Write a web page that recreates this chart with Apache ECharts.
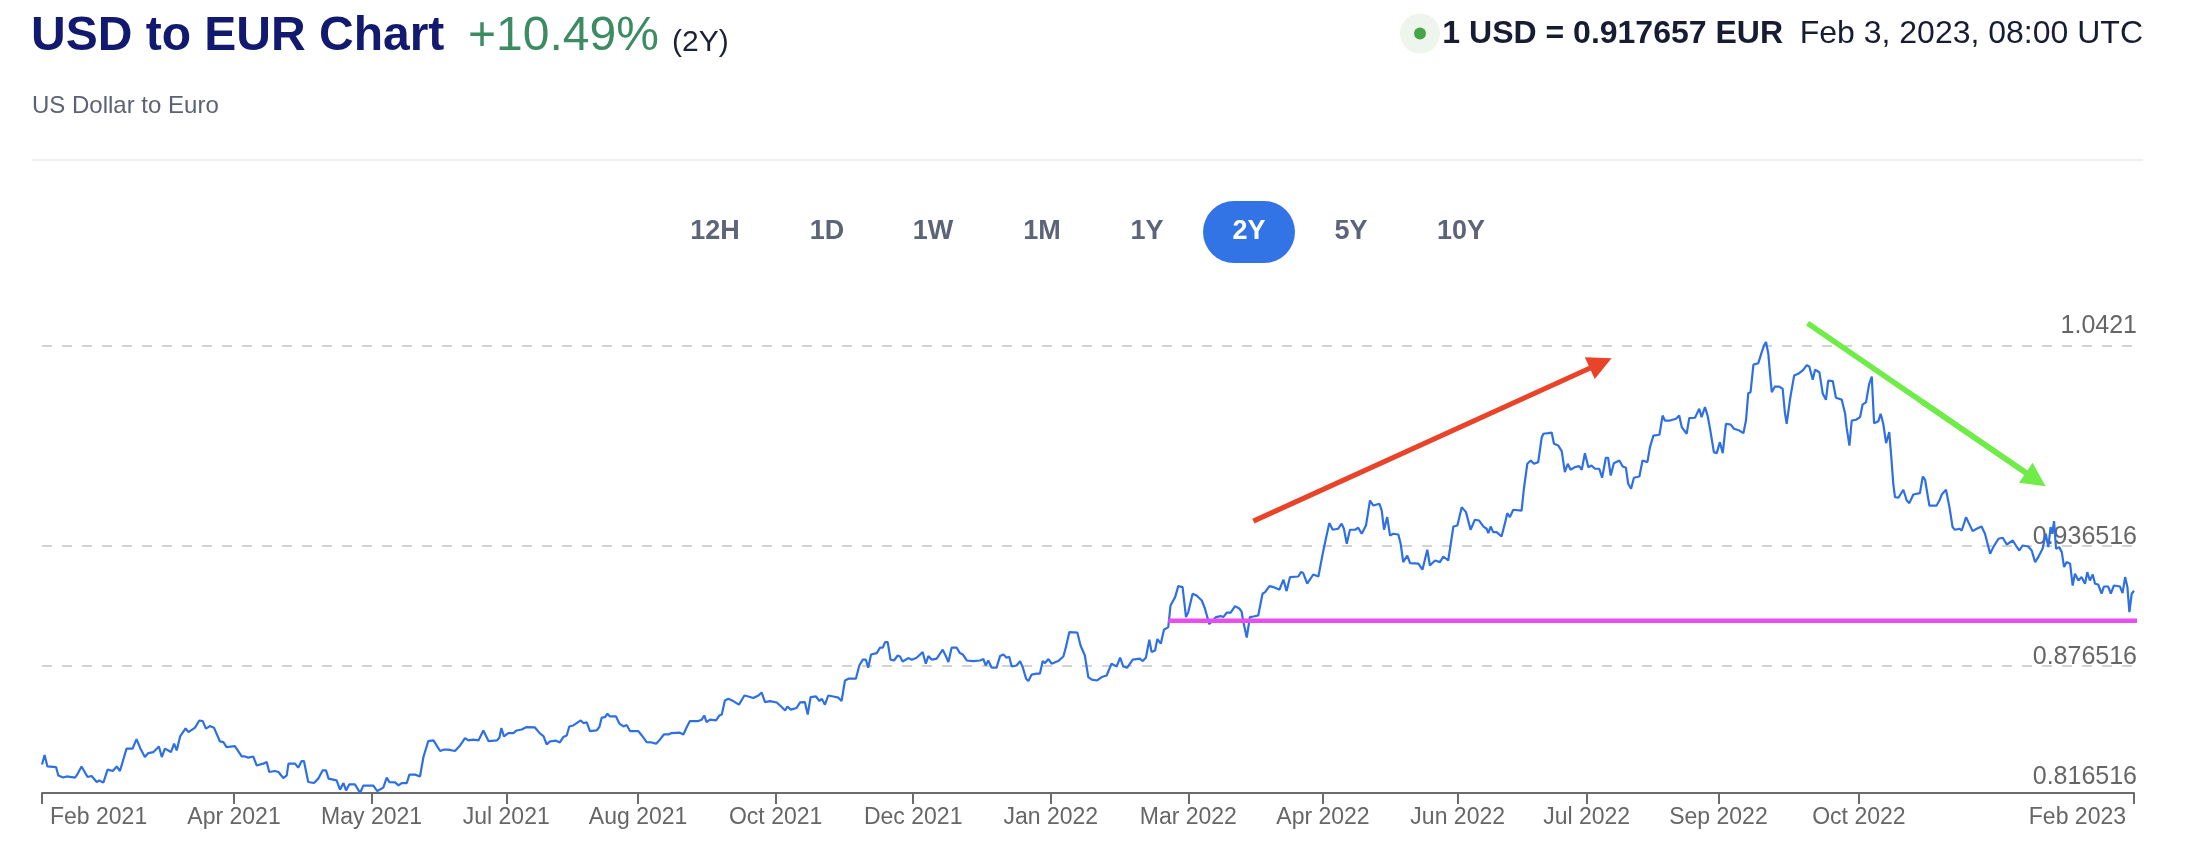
<!DOCTYPE html>
<html>
<head>
<meta charset="utf-8">
<script src="https://cdn.jsdelivr.net/npm/echarts@6.0.0/dist/echarts.min.js"></script>
<style>
  html, body { margin: 0; padding: 0; background: #ffffff; }
  #chart { width: 2187px; height: 863px; }
</style>
</head>
<body>
<div id="chart"></div>
<script>
// ---------------- DATA ----------------
const startDate = '2021-02-03T08:00:00Z';
const endDate = '2023-02-03T08:00:00Z';

// days after startDate, and the USD->EUR rate
const dayOffsets = [
0,0.9,1.9,4.9,5.7,7.4,8.6,11.5,12.1,13.8,15.9,17.3,19.1,20.0,21.4,22.9,24.7,26.1,27.2,29.5,
31.6,33.0,34.2,35.9,37.1,38.9,40.8,41.8,42.9,45.0,46.1,47.0,48.2,50.1,51.1,53.4,54.9,56.1,57.2,58.6,
60.0,62.1,63.3,64.4,67.3,69.7,70.8,72.0,73.7,74.9,77.2,78.4,79.3,81.3,82.5,84.2,85.4,86.0,88.3,89.4,
90.6,91.4,92.9,94.9,96.4,97.9,99.1,100.0,102.8,104.0,105.2,106.1,107.2,109.2,111.0,112.1,115.6,117.0,119.1,120.3,
121.2,123.2,124.4,125.5,127.3,128.2,130.2,131.9,133.1,134.8,136.6,137.7,138.9,140.1,141.8,144.1,145.9,147.6,148.8,150.5,
152.3,154.0,155.8,158.7,159.6,160.3,161.2,162.7,164.5,165.6,167.4,169.1,172.0,173.8,175.0,176.1,177.3,179.4,180.7,181.9,
183.1,184.0,185.4,188.0,188.9,190.1,191.2,193.5,194.5,195.3,196.5,197.3,198.2,200.3,201.5,202.9,204.0,205.2,208.1,209.3,
211.0,212.7,214.3,215.6,217.0,218.6,219.7,222.6,223.8,225.0,226.1,229.0,230.2,231.1,231.9,233.1,235.2,236.4,237.2,238.3,
239.5,241.2,243.2,245.1,246.5,248.2,250.0,251.1,252.3,254.0,256.4,258.1,259.3,260.1,261.3,263.3,264.5,266.2,267.2,268.2,
270.1,271.3,272.1,273.2,274.4,276.1,277.9,279.0,280.2,281.4,284.0,285.2,286.4,287.5,288.3,289.3,291.3,292.4,293.4,294.2,
295.1,296.1,297.3,298.6,299.4,300.3,302.3,303.5,305.2,307.3,308.4,309.3,310.5,312.2,314.3,315.3,316.3,317.4,319.2,320.3,
321.3,322.7,325.0,327.3,328.5,329.3,330.2,331.4,333.1,334.3,335.5,336.6,337.5,338.4,340.1,341.3,342.2,343.4,344.2,345.3,
347.1,348.2,349.2,350.0,351.2,352.3,354.6,356.4,357.3,358.5,361.3,362.4,363.9,365.1,366.3,368.2,369.8,371.5,373.2,375.0,
376.2,377.3,378.7,380.6,383.1,384.1,385.2,386.4,387.2,388.4,389.2,390.4,391.5,393.0,393.8,395.4,396.5,398.0,399.2,400.0,
401.5,402.9,404.7,405.8,407.3,408.7,409.7,411.3,412.2,413.4,414.8,416.3,417.8,418.6,419.2,420.4,421.5,422.7,424.4,425.9,
426.8,428.3,429.7,431.8,433.2,434.3,435.5,438.4,439.3,440.1,441.5,443.6,445.4,446.9,448.0,449.2,450.4,452.3,453.5,454.3,
455.3,456.4,458.2,459.3,460.5,462.0,463.4,464.6,466.7,467.5,468.3,469.4,470.4,471.5,473.3,474.1,475.0,476.4,477.4,480.3,
481.7,483.4,484.3,486.1,487.8,489.0,490.7,492.5,493.9,495.4,496.9,498.5,500.0,501.5,503.0,504.1,504.7,505.5,506.4,507.6,
509.3,510.5,511.3,512.2,513.4,516.3,517.1,518.3,519.5,520.6,522.1,523.3,523.9,525.6,526.8,527.6,529.1,530.3,531.4,532.4,
533.4,534.9,536.4,537.3,538.4,539.6,540.7,541.9,543.4,544.4,545.7,546.5,547.4,548.5,550.4,551.6,552.7,553.5,554.5,555.5,
557.4,558.5,560.2,561.1,562.3,564.4,565.5,566.3,568.1,570.2,571.3,572.2,573.9,574.8,576.8,578.3,579.1,580.3,581.2,582.0,
583.4,584.4,585.5,586.5,587.6,589.3,590.4,592.3,593.7,594.6,595.4,596.2,597.2,598.9,600.1,600.9,601.6,602.4,603.0,603.6,
604.7,606.2,607.4,608.2,608.8,610.0,611.4,613.2,614.6,615.8,616.7,617.9,618.7,620.2,621.4,622.5,623.3,624.9,626.0,628.0,
629.2,629.7,630.7,631.5,633.0,634.4,635.3,636.5,637.6,638.5,639.3,640.8,641.6,642.5,643.5,644.6,645.4,646.0,646.6,647.8,
649.5,650.7,651.6,653.0,655.3,656.3,657.1,657.9,658.6,661.1,662.1,662.9,664.4,665.6,666.7,667.5,669.1,669.9,671.4,672.2,
673.7,675.1,676.8,678.0,679.8,680.9,682.7,684.2,685.6,687.7,688.8,690.0,691.1,693.1,694.3,695.5,696.6,698.1,699.2,700.1,
700.9,701.5,702.1,702.8,703.9,704.8,705.6,706.5,707.7,708.6,709.4,710.6,711.7,712.9,713.7,714.6,715.6,716.4,717.5,718.7,
719.5,721.0,721.9,723.0,725.1,726.0,726.9,727.7,728.4,729.2,730.0
];
const rates = [
0.8308,0.8355,0.8298,0.8295,0.8253,0.8243,0.8248,0.8242,0.8253,0.8298,0.8245,0.8250,0.8220,0.8228,0.8217,0.8282,0.8275,0.8298,0.8275,0.8387,
0.8387,0.8435,0.8392,0.8345,0.8365,0.8370,0.8398,0.8345,0.8387,0.8370,0.8412,0.8378,0.8448,0.8488,0.8470,0.8492,0.8528,0.8525,0.8487,0.8500,
0.8492,0.8423,0.8420,0.8395,0.8400,0.8348,0.8348,0.8342,0.8348,0.8303,0.8312,0.8320,0.8270,0.8275,0.8270,0.8240,0.8253,0.8312,0.8312,0.8292,
0.8325,0.8325,0.8220,0.8215,0.8237,0.8278,0.8278,0.8237,0.8228,0.8182,0.8215,0.8178,0.8208,0.8208,0.8165,0.8202,0.8202,0.8175,0.8192,0.8242,
0.8220,0.8218,0.8203,0.8215,0.8215,0.8257,0.8257,0.8248,0.8345,0.8425,0.8428,0.8403,0.8375,0.8382,0.8382,0.8375,0.8403,0.8440,0.8428,0.8432,
0.8428,0.8478,0.8425,0.8428,0.8442,0.8490,0.8448,0.8465,0.8465,0.8478,0.8483,0.8495,0.8493,0.8462,0.8450,0.8408,0.8423,0.8427,0.8418,0.8445,
0.8453,0.8498,0.8503,0.8528,0.8515,0.8518,0.8475,0.8478,0.8495,0.8542,0.8545,0.8562,0.8548,0.8548,0.8512,0.8498,0.8505,0.8475,0.8475,0.8453,
0.8420,0.8418,0.8412,0.8432,0.8458,0.8458,0.8465,0.8467,0.8458,0.8495,0.8525,0.8525,0.8532,0.8553,0.8520,0.8532,0.8528,0.8553,0.8558,0.8628,
0.8637,0.8625,0.8607,0.8653,0.8648,0.8640,0.8653,0.8668,0.8620,0.8625,0.8618,0.8595,0.8578,0.8598,0.8582,0.8590,0.8618,0.8620,0.8558,0.8645,
0.8648,0.8625,0.8637,0.8607,0.8653,0.8648,0.8642,0.8625,0.8728,0.8737,0.8737,0.8803,0.8832,0.8832,0.8792,0.8858,0.8865,0.8892,0.8892,0.8920,
0.8920,0.8832,0.8828,0.8853,0.8848,0.8823,0.8840,0.8832,0.8842,0.8870,0.8812,0.8850,0.8832,0.8837,0.8882,0.8853,0.8820,0.8892,0.8892,0.8865,
0.8858,0.8828,0.8825,0.8828,0.8835,0.8803,0.8828,0.8792,0.8792,0.8850,0.8858,0.8842,0.8847,0.8798,0.8803,0.8825,0.8795,0.8737,0.8725,0.8757,
0.8762,0.8762,0.8825,0.8815,0.8835,0.8812,0.8825,0.8848,0.8895,0.8970,0.8967,0.8903,0.8853,0.8745,0.8732,0.8728,0.8745,0.8753,0.8812,0.8798,
0.8842,0.8798,0.8792,0.8832,0.8837,0.8825,0.8842,0.8932,0.8870,0.8878,0.8935,0.8912,0.8982,0.8995,0.9103,0.9145,0.9200,0.9195,0.9045,0.9070,
0.9162,0.9153,0.9128,0.9088,0.9010,0.9030,0.9045,0.9050,0.9045,0.9067,0.9067,0.9100,0.9088,0.9072,0.9022,0.8943,0.9045,0.9048,0.9053,0.9162,
0.9170,0.9200,0.9195,0.9182,0.9232,0.9175,0.9245,0.9248,0.9270,0.9265,0.9212,0.9258,0.9248,0.9362,0.9437,0.9515,0.9482,0.9487,0.9512,0.9487,
0.9412,0.9482,0.9482,0.9492,0.9462,0.9503,0.9628,0.9603,0.9612,0.9578,0.9482,0.9545,0.9453,0.9462,0.9458,0.9412,0.9320,0.9353,0.9315,0.9312,
0.9282,0.9382,0.9303,0.9328,0.9320,0.9348,0.9328,0.9498,0.9503,0.9595,0.9570,0.9482,0.9532,0.9528,0.9498,0.9487,0.9465,0.9498,0.9470,0.9470,
0.9448,0.9515,0.9565,0.9545,0.9582,0.9578,0.9687,0.9812,0.9828,0.9812,0.9820,0.9942,0.9962,0.9965,0.9968,0.9912,0.9903,0.9875,0.9770,0.9812,
0.9782,0.9795,0.9800,0.9782,0.9865,0.9795,0.9803,0.9787,0.9787,0.9742,0.9842,0.9842,0.9753,0.9815,0.9828,0.9798,0.9792,0.9712,0.9687,0.9742,
0.9748,0.9828,0.9820,0.9895,0.9953,0.9957,1.0053,1.0028,1.0028,1.0037,1.0053,0.9995,0.9962,1.0040,1.0042,1.0087,1.0045,1.0095,1.0053,0.9992,
0.9870,0.9865,0.9920,0.9865,1.0012,1.0008,0.9987,0.9978,0.9965,1.0028,1.0165,1.0170,1.0308,1.0315,1.0370,1.0403,1.0421,1.0362,1.0262,1.0170,
1.0198,1.0198,1.0187,1.0065,1.0012,1.0137,1.0253,1.0265,1.0282,1.0305,1.0298,1.0232,1.0282,1.0270,1.0162,1.0132,1.0228,1.0225,1.0142,1.0133,
1.0062,0.9995,0.9903,1.0028,1.0032,1.0045,1.0108,1.0120,1.0212,1.0248,1.0015,1.0025,1.0062,1.0012,0.9915,0.9970,0.9828,0.9712,0.9645,0.9642,
0.9682,0.9628,0.9615,0.9658,0.9665,0.9748,0.9732,0.9662,0.9603,0.9603,0.9628,0.9658,0.9682,0.9595,0.9495,0.9482,0.9487,0.9478,0.9545,0.9520,
0.9475,0.9487,0.9498,0.9462,0.9362,0.9395,0.9437,0.9442,0.9408,0.9428,0.9403,0.9378,0.9403,0.9398,0.9378,0.9320,0.9345,0.9387,0.9462,0.9395,
0.9495,0.9462,0.9525,0.9387,0.9395,0.9370,0.9295,0.9320,0.9312,0.9203,0.9262,0.9228,0.9245,0.9212,0.9270,0.9228,0.9258,0.9212,0.9208,0.9162,
0.9198,0.9198,0.9162,0.9203,0.9198,0.9165,0.9245,0.9195,0.9070,0.9162,0.917657
];

// x-axis tick dates and y-axis tick labels
const xTickDates = ['2021-02-03','2021-04-11','2021-05-29','2021-07-15','2021-08-30','2021-10-17','2021-12-04',
  '2022-01-21','2022-03-10','2022-04-26','2022-06-12','2022-07-27','2022-09-11','2022-10-30','2023-02-03'];
const monthNames = ['Jan','Feb','Mar','Apr','May','Jun','Jul','Aug','Sep','Oct','Nov','Dec'];
const yTickValues = [0.816516, 0.876516, 0.936516, 1.0421];
const yTickLabels = ['0.816516', '0.876516', '0.936516', '1.0421'];
const yMin = 0.816516, yMax = 1.0421;

// annotations: [dayOffset, rate]  (shaft start, arrow-head centre)
const upArrow = [[422.7, 0.9525], [543.9, 1.0315]];
const downArrow = [[616.1, 1.0515], [695.7, 0.9733]];
const downArrowHeadFrom = [655.9, 1.0124];
const supportLine = [[393.0, 0.9027], [735.2, 0.9027]];

// header texts
const titleText = 'USD to EUR Chart';
const changeText = '+10.49%';
const periodText = '(2Y)';
const subtitleText = 'US Dollar to Euro';
const rateText = '1 USD = 0.917657 EUR';
const timeText = 'Feb 3, 2023, 08:00 UTC';
const rangeLabels = ['12H', '1D', '1W', '1M', '1Y', '2Y', '5Y', '10Y'];
const activeRange = '2Y';

// ---------------- BUILD ----------------
const DAY = 86400000;
const t0 = Date.parse(startDate);
const t1 = Date.parse(endDate);
const toTime = d => t0 + d * DAY;
const seriesData = dayOffsets.map((d, i) => [toTime(d), rates[i]]);
const xTickTimes = xTickDates.map(s => Date.parse(s + 'T08:00:00Z'));
const toPt = p => [toTime(p[0]), p[1]];
const ac = p => ({ coord: toPt(p) });

const FONT = '"Liberation Sans", Arial, Helvetica, sans-serif';
const rangeCenters = [715, 827, 933, 1042, 1147, 1249, 1351, 1461];

const RED = '#e9442a', GREEN = '#6fec48', MAGENTA = '#ea4cf0';

const graphics = [
  { type: 'text', x: 31, y: 37, style: { text: titleText, font: 'bold 48px ' + FONT, fill: '#111a6e', align: 'left', verticalAlign: 'middle' } },
  { type: 'text', x: 468, y: 37, style: { text: changeText, font: '48px ' + FONT, fill: '#3d8b63', align: 'left', verticalAlign: 'middle' } },
  { type: 'text', x: 672, y: 43, style: { text: periodText, font: '30px ' + FONT, fill: '#1d2233', align: 'left', verticalAlign: 'middle' } },
  { type: 'text', x: 32, y: 106, style: { text: subtitleText, font: '24px ' + FONT, fill: '#5b6275', align: 'left', verticalAlign: 'middle' } },
  { type: 'line', shape: { x1: 32, y1: 160, x2: 2143, y2: 160 }, style: { stroke: '#eef0f4', lineWidth: 2 } },
  { type: 'circle', shape: { cx: 1420, cy: 33.5, r: 20 }, style: { fill: '#edf5ec' } },
  { type: 'circle', shape: { cx: 1420, cy: 33.5, r: 6 }, style: { fill: '#47a447' } },
  { type: 'text', x: 1783, y: 34, style: { text: rateText, font: 'bold 32px ' + FONT, fill: '#171c33', align: 'right', verticalAlign: 'middle' } },
  { type: 'text', x: 2143, y: 34, style: { text: timeText, font: '32px ' + FONT, fill: '#171c33', align: 'right', verticalAlign: 'middle' } }
];
rangeLabels.forEach((lab, i) => {
  const cx = rangeCenters[i];
  const active = lab === activeRange;
  if (active) {
    graphics.push({ type: 'rect', shape: { x: cx - 46, y: 201, width: 92, height: 62, r: 31 }, style: { fill: '#3273e6' } });
  }
  graphics.push({ type: 'text', x: cx, y: 232, style: { text: lab, font: 'bold 27px ' + FONT, fill: active ? '#ffffff' : '#5d6479', align: 'center', verticalAlign: 'middle' } });
});

const chart = echarts.init(document.getElementById('chart'), null, { renderer: 'canvas' });
chart.setOption({
  animation: false,
  backgroundColor: '#ffffff',
  textStyle: { fontFamily: FONT },
  tooltip: { show: false },
  graphic: graphics,
  grid: { left: 42, right: 53, top: 342, bottom: 70, containLabel: false },
  xAxis: {
    type: 'value',
    min: t0,
    max: t1,
    axisLine: { show: true, lineStyle: { color: '#6b6b6b', width: 2 } },
    axisTick: { show: true, length: 11, customValues: xTickTimes, lineStyle: { color: '#6b6b6b', width: 2 } },
    axisLabel: {
      customValues: xTickTimes,
      color: '#666666',
      fontSize: 23,
      fontFamily: FONT,
      margin: 13,
      padding: [0, 8, 0, 8],
      showMinLabel: true,
      showMaxLabel: true,
      alignMinLabel: 'left',
      alignMaxLabel: 'right',
      hideOverlap: false,
      formatter: function (v) {
        const d = new Date(v);
        return monthNames[d.getUTCMonth()] + ' ' + d.getUTCFullYear();
      }
    },
    splitLine: { show: false }
  },
  yAxis: {
    type: 'value',
    position: 'right',
    min: yMin,
    max: yMax,
    axisLine: { show: false },
    axisTick: { show: false },
    splitLine: { show: false },
    axisLabel: {
      inside: true,
      customValues: yTickValues,
      margin: -3,
      color: '#666666',
      fontSize: 25,
      fontFamily: FONT,
      verticalAlign: 'bottom',
      padding: [0, 0, 3, 0],
      showMinLabel: true,
      showMaxLabel: true,
      formatter: function (v) {
        let best = 0;
        yTickValues.forEach((tv, i) => { if (Math.abs(tv - v) < Math.abs(yTickValues[best] - v)) best = i; });
        return yTickLabels[best];
      }
    }
  },
  series: [
    {
      name: 'grid',
      type: 'line',
      data: [],
      z: 1,
      silent: true,
      markLine: {
        z: 1,
        silent: true,
        symbol: ['none', 'none'],
        label: { show: false },
        emphasis: { disabled: true },
        lineStyle: { type: [10, 10], color: '#d2d2d2', width: 2 },
        data: yTickValues.slice(1).map(v => ({ yAxis: v }))
      }
    },
    {
      name: 'USD/EUR',
      type: 'line',
      data: seriesData,
      showSymbol: false,
      symbol: 'none',
      z: 2,
      lineStyle: { color: '#2e6fe4', width: 2.2 },
      emphasis: { disabled: true }
    },
    {
      name: 'support',
      type: 'line',
      data: supportLine.map(toPt),
      clip: false,
      silent: true,
      showSymbol: false,
      symbol: 'none',
      z: 4,
      lineStyle: { color: MAGENTA, width: 4.5, cap: 'butt' },
      emphasis: { disabled: true }
    },
    {
      name: 'down trend',
      type: 'line',
      data: downArrow.map(toPt),
      clip: false,
      silent: true,
      showSymbol: false,
      symbol: 'none',
      z: 4,
      lineStyle: { color: GREEN, width: 5.5, cap: 'butt' },
      emphasis: { disabled: true }
    },
    {
      name: 'annotations',
      type: 'line',
      data: [],
      z: 4,
      clip: false,
      silent: true,
      markLine: {
        z: 6,
        silent: true,
        label: { show: false },
        emphasis: { disabled: true },
        animation: false,
        data: [
          [Object.assign(ac(upArrow[0]), { symbol: 'none', lineStyle: { color: RED, width: 5, type: 'solid', cap: 'butt' } }),
           Object.assign(ac(upArrow[1]), { symbol: 'triangle', symbolSize: [24, 24], itemStyle: { color: RED } })],
          [Object.assign(ac(downArrowHeadFrom), { symbol: 'none', lineStyle: { color: GREEN, width: 5.5, type: 'solid', cap: 'butt' } }),
           Object.assign(ac(downArrow[1]), { symbol: 'triangle', symbolSize: [24, 24], itemStyle: { color: GREEN } })]
        ]
      }
    }
  ]
});
</script>
</body>
</html>
